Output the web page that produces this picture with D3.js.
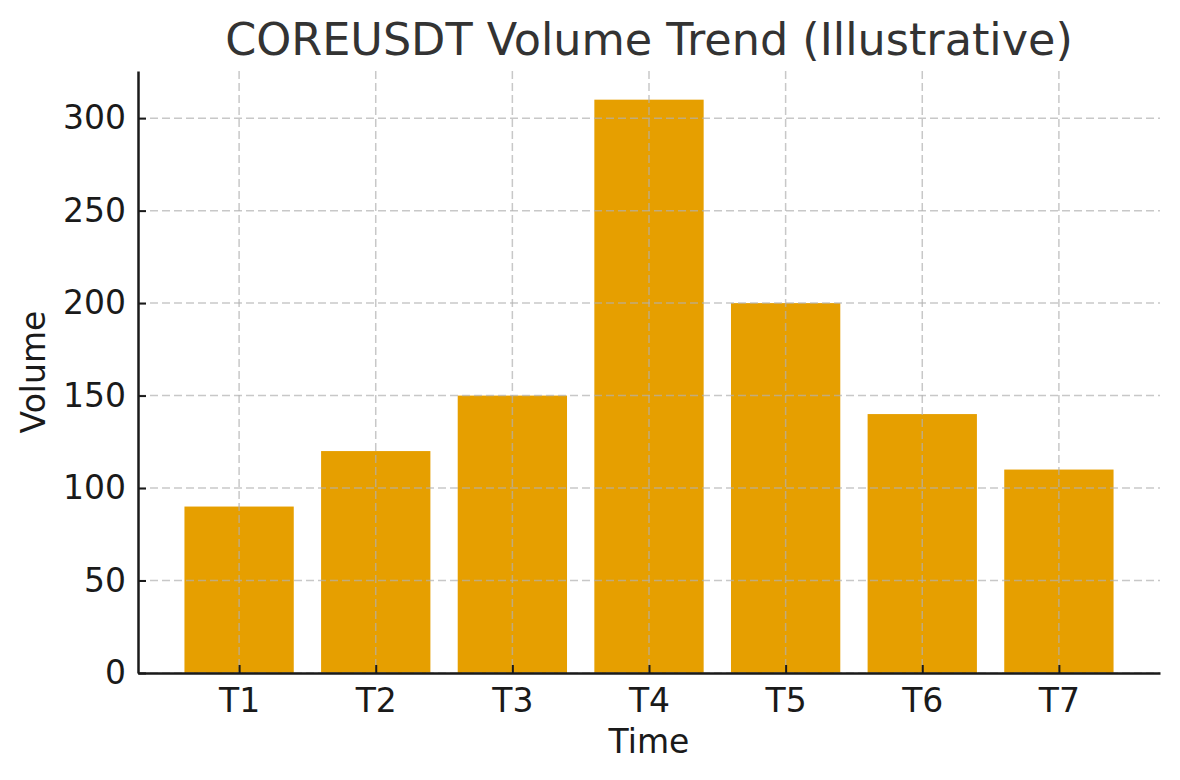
<!DOCTYPE html>
<html>
<head>
<meta charset="utf-8">
<script src="https://cdn.jsdelivr.net/npm/d3@7"></script>
<style>
  body { margin: 0; background: #fff; }
  .chart { width: 1180px; height: 780px; }
  text { font-family: "DejaVu Sans", sans-serif; fill: #1a1a1a; }
</style>
</head>
<body>
<div class="chart"></div>
<script>
/* data */
var periods = ["T1", "T2", "T3", "T4", "T5", "T6", "T7"];
var volumes = [90, 120, 150, 310, 200, 140, 110];
var yTicks = [0, 50, 100, 150, 200, 250, 300];

var margin = { top: 71, right: 20, bottom: 107, left: 138 };
var width = 1180 - margin.left - margin.right;
var height = 780 - margin.top - margin.bottom;

// matplotlib-like limits: bars 0.8 wide, 5% padding
var xScale = d3.scaleLinear().domain([-0.74, periods.length - 1 + 0.74]).range([0, width]);
var yScale = d3.scaleLinear().domain([0, d3.max(volumes) * 1.05]).range([height, 0]);
var barW = xScale(0.8) - xScale(0);

var svg = d3.select(".chart").append("svg")
    .attr("width", 1180)
    .attr("height", 780);

var g = svg.append("g")
    .attr("transform", "translate(" + margin.left + "," + margin.top + ")");

// bars
g.selectAll(".bar")
    .data(volumes)
    .enter().append("rect")
    .attr("class", "bar")
    .attr("x", function(d, i) { return xScale(i) - barW / 2; })
    .attr("y", function(d) { return yScale(d); })
    .attr("width", barW)
    .attr("height", function(d) { return height - yScale(d); })
    .attr("fill", "#E69F00");

// grid on top of bars
var grid = g.append("g").attr("class", "grid")
    .attr("stroke", "#b0b0b0")
    .attr("stroke-opacity", 0.7)
    .attr("stroke-width", 1.5)
    .attr("stroke-dasharray", "8,4");

grid.selectAll(".gx")
    .data(periods)
    .enter().append("line")
    .attr("x1", function(d, i) { return xScale(i); })
    .attr("x2", function(d, i) { return xScale(i); })
    .attr("y1", 0)
    .attr("y2", height);

grid.selectAll(".gy")
    .data(yTicks)
    .enter().append("line")
    .attr("x1", 0)
    .attr("x2", width)
    .attr("y1", function(d) { return yScale(d); })
    .attr("y2", function(d) { return yScale(d); });

// x axis
var xAxis = g.append("g")
    .attr("transform", "translate(0," + height + ")")
    .call(d3.axisBottom(xScale)
        .tickValues(d3.range(periods.length))
        .tickFormat(function(d) { return periods[d]; })
        .tickSizeInner(-8)
        .tickSizeOuter(0)
        .tickPadding(16));

// y axis
var yAxis = g.append("g")
    .call(d3.axisLeft(yScale)
        .tickValues(yTicks)
        .tickSizeInner(-8)
        .tickSizeOuter(0)
        .tickPadding(12));

[xAxis, yAxis].forEach(function(ax) {
    ax.select(".domain").attr("stroke", "#1a1a1a").attr("stroke-width", 2.5);
    ax.selectAll(".tick line").attr("stroke", "#1a1a1a").attr("stroke-width", 2);
    ax.selectAll(".tick text")
        .attr("font-family", "DejaVu Sans, sans-serif")
        .attr("font-size", 33)
        .attr("fill", "#1a1a1a");
});

// labels
svg.append("text")
    .attr("x", margin.left + width / 2)
    .attr("y", 753)
    .attr("text-anchor", "middle")
    .attr("font-size", 33)
    .text("Time");

svg.append("text")
    .attr("transform", "translate(45," + (margin.top + height / 2) + ") rotate(-90)")
    .attr("text-anchor", "middle")
    .attr("font-size", 33)
    .text("Volume");

svg.append("text")
    .attr("x", margin.left + width / 2)
    .attr("y", 55)
    .attr("text-anchor", "middle")
    .attr("font-size", 44.5)
    .style("fill", "#333")
    .text("COREUSDT Volume Trend (Illustrative)");
</script>
</body>
</html>
